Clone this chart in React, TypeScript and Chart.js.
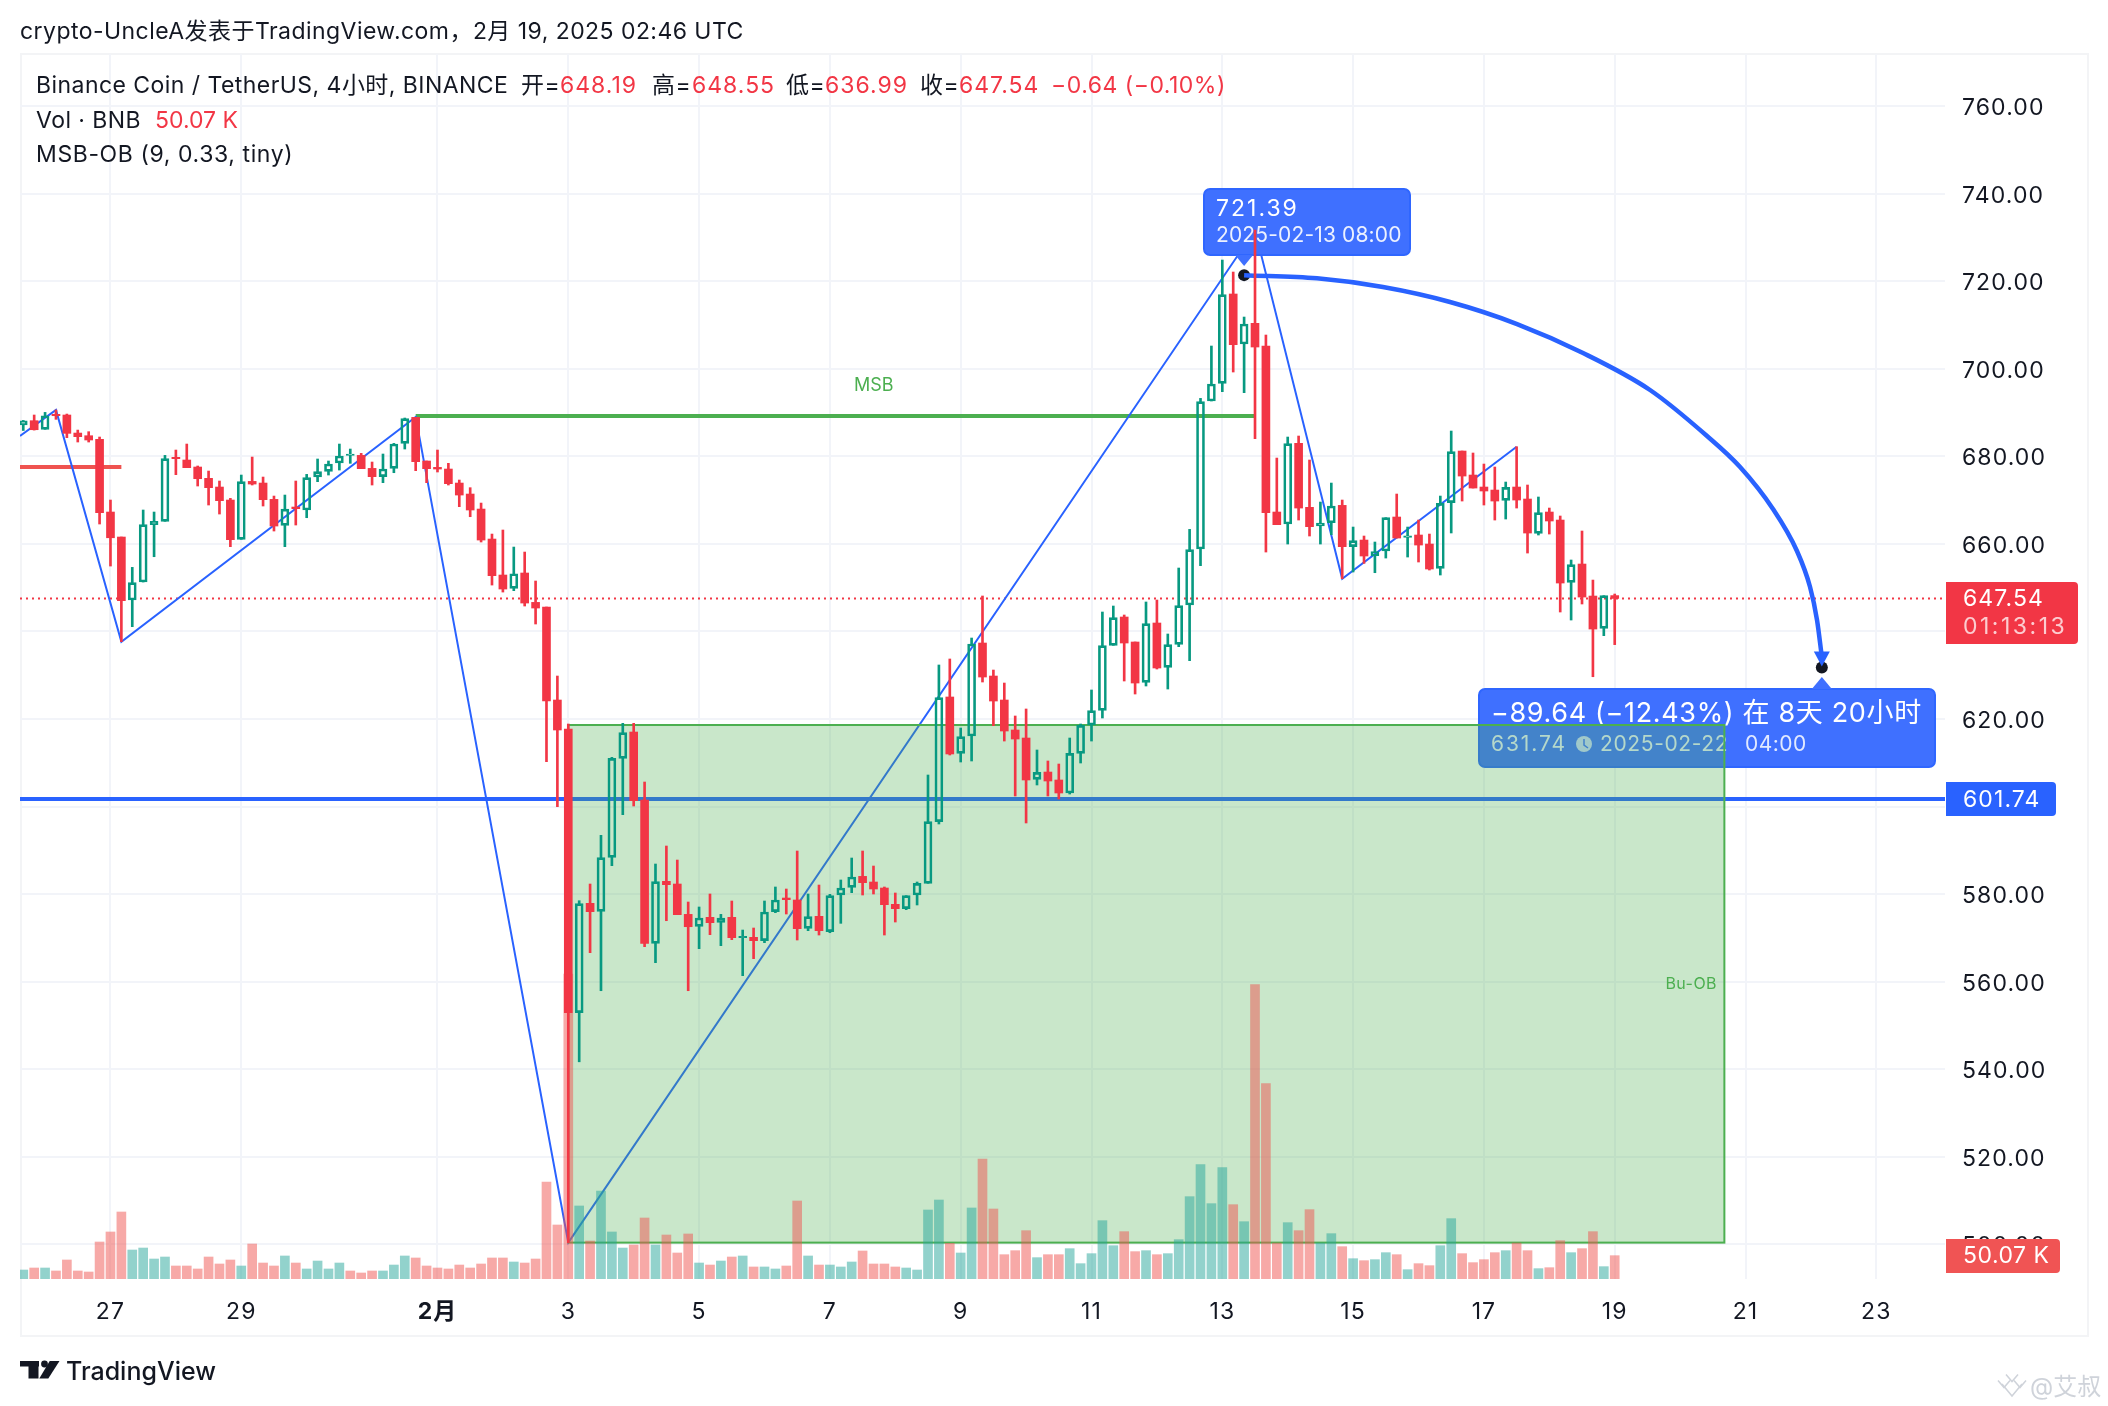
import React, { useEffect, useRef } from 'react';
import { Chart, registerables } from 'chart.js';

Chart.register(...registerables);

// bar index 0 is the 4h candle of Feb 3 00:00, one bar is 4 hours
const firstBar = -50;
const opens = [
  687.2, 688.14, 686.16, 689.59, 689.44, 685.32, 684.71, 683.88, 667.28, 661.57,
  647.18, 651.29, 664.39, 665.15, 679.77, 679.16, 677.56, 674.97, 672.99, 670.02,
  661.04, 674.28, 673.9, 670.17, 664.23, 668.42, 667.74, 675.27, 676.57, 678.47,
  680.22, 680.22, 677.25, 675.35, 677.25, 682.96, 688.9, 678.93, 677.48, 677.1,
  673.9, 671.39, 667.96, 661.11, 652.89, 649.84, 653.35, 646.64, 645.58, 624.34,
  617.72, 552.92, 577.9, 576.07, 588.41, 611.02, 617.03, 601.5, 568.76, 582.92,
  582.31, 575.38, 572.64, 574.7, 573.56, 574.7, 570.05, 570.13, 569.37, 575.99,
  579.11, 578.66, 572.18, 574.93, 571.42, 579.8, 581.55, 584.06, 582.77, 581.4,
  577.67, 576.68, 579.8, 582.46, 596.55, 625.03, 612.16, 616.12, 637.36, 629.82,
  624.34, 617.49, 615.66, 606.22, 607.89, 606.07, 603.1, 612.16, 618.63, 621.98,
  636.83, 643.3, 637.59, 628.38, 641.93, 631.8, 637.06, 646.04, 658.83, 692.64,
  696.67, 717.08, 705.65, 710.38, 705.2, 667.28, 664.54, 682.97, 668.35, 664.08,
  664.84, 668.8, 659.36, 660.88, 657.31, 658.37, 666.14, 661.5, 662.03, 659.97,
  654.41, 669.41, 681.21, 675.73, 672.99, 672.3, 669.95, 672.99, 670.25, 662.41,
  667.28, 665.45, 651.21, 655.4, 648.09, 640.7, 648.19,
];
const closes = [
  688.1, 686.08, 689.28, 689.28, 685.25, 684.49, 683.73, 667.13, 661.4, 647.03,
  651.14, 664.39, 665.15, 679.46, 679.46, 677.41, 674.89, 672.84, 669.87, 660.96,
  674.21, 673.67, 670.1, 664.08, 667.96, 668.04, 675.12, 676.49, 678.24, 680.07,
  680.53, 677.18, 675.35, 677.1, 682.81, 688.6, 678.78, 677.18, 677.1, 673.75,
  671.16, 667.74, 660.88, 652.74, 649.69, 653.19, 646.49, 645.35, 624.11, 617.49,
  552.92, 577.82, 575.99, 588.33, 611.02, 616.88, 601.35, 568.76, 582.85, 582.16,
  575.31, 572.56, 574.54, 573.48, 574.54, 570.05, 570.36, 569.37, 575.92, 578.66,
  578.73, 572.11, 574.85, 571.65, 579.65, 581.4, 583.91, 582.62, 581.17, 577.59,
  576.68, 579.65, 582.46, 596.55, 624.87, 612.01, 615.97, 637.13, 629.59, 624.11,
  617.26, 615.43, 606.07, 607.82, 605.84, 603.1, 612.16, 618.55, 621.9, 636.75,
  643.15, 637.36, 628.22, 641.78, 631.65, 636.98, 645.89, 658.68, 692.48, 696.52,
  716.92, 705.5, 710.22, 704.97, 667.13, 664.39, 682.89, 668.19, 663.93, 664.77,
  668.65, 659.36, 660.73, 657.23, 658.22, 666.0, 661.34, 661.87, 659.74, 654.26,
  669.26, 681.06, 675.5, 672.76, 672.08, 669.79, 672.91, 670.02, 662.48, 667.13,
  665.23, 651.06, 655.25, 647.86, 640.55, 648.19, 647.54,
];
const highs = [
  688.2, 689.44, 690.04, 690.58, 689.66, 686.0, 685.63, 684.41, 670.02, 661.57,
  654.64, 667.74, 667.28, 680.22, 681.44, 682.81, 677.79, 676.64, 674.36, 670.4,
  675.73, 679.84, 675.27, 670.93, 671.16, 674.36, 675.88, 679.39, 678.93, 682.81,
  681.67, 680.68, 678.7, 680.53, 682.96, 688.75, 688.9, 678.93, 681.44, 678.4,
  674.59, 672.84, 669.33, 662.25, 663.17, 659.28, 658.14, 651.52, 645.58, 629.82,
  618.86, 578.5, 582.31, 593.43, 611.25, 619.01, 619.01, 605.61, 586.88, 590.99,
  587.79, 578.2, 577.06, 580.03, 575.38, 578.43, 571.8, 572.26, 578.43, 581.63,
  581.17, 589.85, 580.03, 582.08, 579.95, 583.23, 588.25, 589.85, 586.42, 581.63,
  580.26, 579.65, 582.77, 607.21, 632.34, 633.71, 617.94, 638.5, 648.1, 631.19,
  628.22, 620.69, 622.29, 612.92, 610.41, 609.72, 615.66, 618.86, 626.63, 644.44,
  645.81, 643.76, 637.59, 646.73, 647.18, 639.42, 654.49, 663.32, 693.24, 705.2,
  724.84, 722.1, 711.82, 731.69, 707.71, 679.61, 684.41, 684.64, 679.16, 669.56,
  673.9, 670.02, 663.85, 661.8, 660.43, 666.0, 671.39, 663.85, 665.45, 662.25,
  670.93, 685.78, 681.21, 680.76, 678.24, 677.56, 674.13, 682.2, 673.45, 670.71,
  668.19, 666.37, 656.32, 662.94, 651.74, 648.19, 648.55,
];
const lows = [
  685.9, 686.0, 686.16, 688.45, 684.26, 683.27, 683.27, 664.54, 654.94, 637.66,
  641.09, 651.29, 657.07, 665.15, 675.81, 677.41, 673.22, 668.88, 666.82, 659.36,
  661.04, 673.45, 668.65, 662.94, 659.36, 664.31, 665.98, 674.21, 675.73, 676.87,
  678.4, 677.18, 673.45, 673.98, 676.26, 681.67, 676.72, 673.98, 676.42, 673.45,
  668.5, 666.21, 660.43, 650.6, 649.0, 649.31, 645.81, 641.7, 610.25, 599.98,
  500.4, 541.7, 566.63, 557.94, 586.5, 598.15, 600.13, 568.0, 564.34, 573.93,
  575.31, 557.94, 567.54, 570.74, 568.23, 569.6, 561.37, 565.26, 568.91, 575.76,
  575.46, 569.52, 571.65, 570.66, 571.19, 573.33, 580.33, 579.8, 580.03, 570.66,
  573.63, 576.45, 577.52, 582.46, 596.02, 611.78, 610.18, 610.41, 628.45, 618.48,
  614.97, 602.41, 596.25, 604.93, 602.41, 601.73, 602.87, 609.95, 614.97, 620.23,
  636.83, 628.68, 625.71, 627.54, 631.42, 626.85, 636.52, 633.32, 655.02, 692.64,
  694.77, 699.26, 694.54, 684.03, 658.14, 664.39, 659.97, 665.45, 661.8, 659.97,
  662.1, 652.05, 653.58, 655.55, 653.42, 656.77, 661.34, 657.0, 655.86, 654.03,
  652.89, 662.49, 669.79, 672.76, 668.88, 665.45, 665.68, 668.19, 657.91, 662.03,
  662.25, 644.44, 642.61, 646.27, 629.66, 639.03, 636.99,
];
// volume in thousands of BNB
const volumes = [
  19.3, 23.6, 23.6, 17.2, 40.8, 17.2, 15.0, 79.4, 100.9, 143.8,
  62.2, 66.5, 42.9, 47.2, 27.9, 27.9, 21.5, 47.2, 32.2, 40.8,
  27.9, 75.1, 34.3, 27.9, 49.4, 34.3, 21.5, 38.6, 21.5, 34.3,
  17.2, 12.9, 17.2, 17.2, 30.0, 49.4, 45.1, 27.9, 23.6, 21.5,
  30.0, 23.6, 32.2, 45.1, 45.1, 36.5, 34.3, 42.9, 208.2, 115.9,
  654.5, 156.7, 81.5, 188.8, 100.9, 66.5, 73.0, 130.9, 73.0, 94.4,
  55.8, 96.6, 34.3, 30.0, 38.6, 47.2, 49.4, 25.8, 25.8, 21.5,
  27.9, 167.4, 49.4, 30.0, 30.0, 25.8, 36.5, 60.1, 32.2, 32.2,
  25.8, 23.6, 19.3, 148.1, 169.5, 76.5, 55.8, 152.4, 257.5, 150.2,
  52.2, 60.8, 103.7, 45.8, 52.2, 52.2, 65.1, 32.9, 54.4, 125.2,
  71.5, 101.6, 58.7, 60.8, 52.2, 54.4, 84.4, 176.7, 245.3, 161.7,
  238.9, 159.5, 123.0, 631.6, 419.2, 77.3, 120.9, 103.7, 148.8, 77.3,
  97.3, 69.4, 43.6, 39.3, 41.5, 56.5, 52.2, 20.0, 32.9, 28.6,
  71.5, 129.5, 54.4, 35.1, 41.5, 56.5, 60.8, 77.3, 60.8, 22.2,
  24.3, 82.3, 56.5, 65.1, 101.6, 26.5, 50.07,
];
const redVolumeOnGreenCandle = [-20];

const priceTicks = [500, 520, 540, 560, 580, 600, 620, 640, 660, 680, 700, 720, 740, 760];
const dayTickBars = [-42, -30, -12, 0, 12, 24, 36, 48, 60, 72, 84, 96, 108, 120];
const dayTickLabels = ['27', '29', '2月', '3', '5', '7', '9', '11', '13', '15', '17', '19', '21', '23'];

// MSB-OB zigzag pivots
const zigzagBars = [-50.3, -47, -41, -14, 0, 63, 71, 87];
const zigzagPrices = [684.64, 690.58, 637.66, 689.0, 500.4, 731.69, 652.05, 682.2];

// hand drawn projection curve
const curveBars = [62, 68.69, 74.74, 80.89, 87.04, 93.09, 99.24, 104.47, 107.5, 110.52, 112.72, 113.92, 114.56, 115];
const curvePrices = [721.39, 720.66, 718.67, 715.25, 710.22, 703.6, 695.15, 684.64, 677.56, 667.97, 658.37, 650.15, 642.61, 634.23];
const dotBars = [62, 115];
const dotPrices = [721.39, 631.74];

const lastPrice = 647.54;
const linePrice = 601.74;
const msbPrice = 689.2;
const msbBars = [-14, 63];
const redZonePrice = 677.56;
const redZoneBars = [-50.3, -41];
const obBars = [0, 106.06];
const obPrices = [618.63, 500.4];

const RED = '#f23645';
const GREEN = '#089981';
const BLUE = '#2962ff';
const OB_GREEN = '#4caf50';
const INK = '#131722';
const FONT = 'Inter, "Noto Sans CJK SC", sans-serif';

const bars = opens.map((_, i) => firstBar + i);
const isUp = (i: number) => closes[i] >= opens[i];

const hLine = (label: string, xs: number[], price: number, color: string, width: number, order: number, dash?: number[]) => ({
  type: 'line' as const,
  label,
  data: xs.map((x) => ({ x, y: price })),
  borderColor: color,
  borderWidth: width,
  borderDash: dash,
  pointRadius: 0,
  tension: 0,
  order,
});

const text = (ctx: any, s: string, x: number, y: number, color: string, font: string, spacing = 0.45) => {
  ctx.fillStyle = color;
  ctx.font = font;
  ctx.letterSpacing = `${spacing}px`;
  ctx.textAlign = 'left';
  ctx.textBaseline = 'middle';
  ctx.fillText(s, x, y + 1.3);
};

const box = (ctx: CanvasRenderingContext2D, x: number, y: number, w: number, h: number, r: number | number[], color: string) => {
  ctx.fillStyle = color;
  ctx.beginPath();
  ctx.roundRect(x, y, w, h, r);
  ctx.fill();
};

// white page, outer frame and everything around the plot
const pagePlugin = {
  id: 'page',
  beforeDraw(chart: Chart) {
    const ctx: any = chart.ctx;
    ctx.save();
    ctx.fillStyle = '#ffffff';
    ctx.fillRect(0, 0, chart.width, chart.height);
    ctx.strokeStyle = '#f3f4f6';
    ctx.lineWidth = 2;
    ctx.strokeRect(21, 54, 2067, 1282);
    ctx.restore();
    // the axis labels have wider figures in the original
    ctx.letterSpacing = '1.1px';
  },
  afterDraw(chart: Chart) {
    const ctx = chart.ctx;
    ctx.save();
    const f = `23px ${FONT}`;
    text(ctx, 'crypto-UncleA发表于TradingView.com，2月 19, 2025 02:46 UTC', 20, 31, INK, f);

    // legend rows
    text(ctx, 'Binance Coin / TetherUS, 4小时, BINANCE', 36, 85, INK, f);
    text(ctx, '开=', 521, 85, INK, f);
    text(ctx, '648.19', 560, 85, RED, f, 1);
    text(ctx, '高=', 652, 85, INK, f);
    text(ctx, '648.55', 692, 85, RED, f, 1);
    text(ctx, '低=', 786, 85, INK, f);
    text(ctx, '636.99', 825, 85, RED, f, 1);
    text(ctx, '收=', 920, 85, INK, f);
    text(ctx, '647.54', 959, 85, RED, f, 1);
    text(ctx, '−0.64 (−0.10%)', 1051, 85, RED, f, 0.5);
    text(ctx, 'Vol · BNB', 36, 120, INK, f);
    text(ctx, '50.07 K', 155, 120, RED, f, 0);
    text(ctx, 'MSB-OB (9, 0.33, tiny)', 36, 154, INK, f, 0.6);

    // price scale labels
    box(ctx, 1946, 582, 132, 62, [0, 4, 4, 0], RED);
    text(ctx, '647.54', 1963, 598, '#ffffff', f, 1.1);
    text(ctx, '01:13:13', 1963, 626, 'rgba(255,255,255,0.75)', f, 2.5);
    box(ctx, 1946, 782, 110, 34, [0, 4, 4, 0], BLUE);
    text(ctx, '601.74', 1963, 799, '#ffffff', f, 1.1);
    box(ctx, 1946, 1239, 114, 34, [0, 4, 4, 0], '#f05454');
    text(ctx, '50.07 K', 1963, 1255, '#ffffff', f, 0.5);

    // TradingView mark
    ctx.fillStyle = INK;
    ctx.fillRect(20, 1361, 19, 5.5);
    ctx.fillRect(28.5, 1361, 10, 17.5);
    ctx.beginPath();
    ctx.arc(44.5, 1364, 3.4, 0, Math.PI * 2);
    ctx.fill();
    ctx.beginPath();
    ctx.moveTo(49.7, 1361);
    ctx.lineTo(59.5, 1361);
    ctx.lineTo(48.3, 1378.5);
    ctx.lineTo(39.3, 1378.5);
    ctx.closePath();
    ctx.fill();
    text(ctx, 'TradingView', 66, 1371, INK, `500 25px ${FONT}`, 0);

    // watermark
    ctx.strokeStyle = '#cfd3da';
    ctx.lineWidth = 1.5;
    for (const [cx, cy, w] of [[2012, 1378, 6], [2004, 1384, 6], [2020, 1384, 6], [2012, 1390, 10]]) {
      ctx.beginPath();
      ctx.moveTo(cx - w, cy - w * 0.6);
      ctx.lineTo(cx, cy + w * 0.6);
      ctx.lineTo(cx + w, cy - w * 0.6);
      ctx.stroke();
    }
    text(ctx, '@艾叔', 2030, 1386, '#cfd3da', `24px ${FONT}`, 0);
    ctx.restore();
  },
  // drawn right under volume and candles, so the zone tints only what lies below it
  afterDatasetDraw(chart: Chart, args: { index: number }) {
    if (chart.data.datasets[args.index].label !== 'zigzag') return;
    const ctx = chart.ctx;
    const x = chart.scales.x;
    const y = chart.scales.y;
    ctx.save();

    // arrow head
    const ax = x.getPixelForValue(dotBars[1]);
    const ay = y.getPixelForValue(dotPrices[1]);
    ctx.fillStyle = BLUE;
    ctx.beginPath();
    ctx.moveTo(ax - 8, ay - 16);
    ctx.lineTo(ax + 8, ay - 16);
    ctx.lineTo(ax, ay - 1);
    ctx.closePath();
    ctx.fill();

    // start label
    const sx = x.getPixelForValue(dotBars[0]);
    ctx.fillStyle = '#3f70ff';
    ctx.strokeStyle = '#2f66ff';
    ctx.lineWidth = 2;
    ctx.beginPath();
    ctx.roundRect(1204, 189, 206, 66, 6);
    ctx.fill();
    ctx.stroke();
    ctx.fillStyle = '#3f70ff';
    ctx.beginPath();
    ctx.moveTo(sx - 9, 255);
    ctx.lineTo(sx + 9, 255);
    ctx.lineTo(sx, 266);
    ctx.closePath();
    ctx.fill();
    text(ctx, '721.39', 1216, 208, '#ffffff', `23px ${FONT}`, 2);
    text(ctx, '2025-02-13 08:00', 1216, 234, 'rgba(255,255,255,0.9)', `21px ${FONT}`, 0.15);

    // end label
    ctx.fillStyle = '#3f70ff';
    ctx.beginPath();
    ctx.roundRect(1479, 689, 456, 78, 6);
    ctx.fill();
    ctx.stroke();
    ctx.beginPath();
    ctx.moveTo(ax - 10, 689);
    ctx.lineTo(ax + 10, 689);
    ctx.lineTo(ax, 677);
    ctx.closePath();
    ctx.fill();
    text(ctx, '−89.64 (−12.43%) 在 8天 20小时', 1491, 713, '#ffffff', `27px ${FONT}`, 0.65);
    text(ctx, '631.74', 1491, 743, 'rgba(255,255,255,0.85)', `21px ${FONT}`, 1.9);
    ctx.fillStyle = 'rgba(255,255,255,0.7)';
    ctx.beginPath();
    ctx.arc(1584, 744, 8, 0, Math.PI * 2);
    ctx.fill();
    ctx.strokeStyle = '#3f70ff';
    ctx.lineWidth = 1.5;
    ctx.beginPath();
    ctx.moveTo(1584, 739);
    ctx.lineTo(1584, 745);
    ctx.lineTo(1588, 748);
    ctx.stroke();
    text(ctx, '2025-02-22', 1600, 743, 'rgba(255,255,255,0.85)', `21px ${FONT}`, 0.63);
    text(ctx, '04:00', 1745, 743, 'rgba(255,255,255,0.85)', `21px ${FONT}`, 0.5);

    // order block zone
    const left = x.getPixelForValue(obBars[0]);
    const right = x.getPixelForValue(obBars[1]);
    const top = y.getPixelForValue(obPrices[0]);
    const bottom = y.getPixelForValue(obPrices[1]);
    ctx.fillStyle = 'rgba(76,175,80,0.3)';
    ctx.fillRect(left, top, right - left, bottom - top);
    ctx.strokeStyle = OB_GREEN;
    ctx.lineWidth = 2;
    ctx.strokeRect(left, top, right - left, bottom - top);
    text(ctx, 'Bu-OB', right - 59, 983, OB_GREEN, `16px ${FONT}`);
    text(ctx, 'MSB', 854, 384, OB_GREEN, `18px ${FONT}`, 0);
    ctx.restore();
    (ctx as any).letterSpacing = '1.1px';
  },
};

const App = () => {
  const chartRef = useRef<HTMLCanvasElement>(null);
  const chartInstance = useRef<Chart | null>(null);

  useEffect(() => {
    document.body.style.margin = '0';
    if (!chartRef.current) return;
    const ctx = chartRef.current.getContext('2d');
    if (!ctx) return;

    chartInstance.current = new Chart(ctx, {
      type: 'bar',
      plugins: [pagePlugin],
      data: {
        datasets: [
          hLine('last price', [-50.3, 126.3], lastPrice, RED, 2, 8, [2, 4]),
          hLine('horizontal', [-50.3, 126.3], linePrice, BLUE, 4, 8),
          hLine('msb', msbBars, msbPrice, OB_GREEN, 4, 8),
          hLine('bearish', redZoneBars, redZonePrice, '#ef5350', 4, 8),
          {
            type: 'line',
            label: 'curve',
            data: curveBars.map((x, i) => ({ x, y: curvePrices[i] })),
            borderColor: BLUE,
            borderWidth: 4.5,
            pointRadius: 0,
            cubicInterpolationMode: 'monotone',
            order: 7,
          },
          {
            type: 'line',
            label: 'dots',
            data: dotBars.map((x, i) => ({ x, y: dotPrices[i] })),
            showLine: false,
            pointRadius: 6,
            pointBorderWidth: 0,
            pointBackgroundColor: INK,
            order: 7,
          },
          {
            type: 'line',
            label: 'zigzag',
            data: zigzagBars.map((x, i) => ({ x, y: zigzagPrices[i] })),
            borderColor: BLUE,
            borderWidth: 2,
            pointRadius: 0,
            tension: 0,
            order: 6,
          },
          {
            label: 'volume',
            yAxisID: 'yVol',
            data: bars.map((x, i) => ({ x, y: volumes[i] })),
            backgroundColor: bars.map((x, i) =>
              isUp(i) && !redVolumeOnGreenCandle.includes(x) ? 'rgba(38,166,154,0.5)' : 'rgba(239,83,80,0.5)'
            ),
            barThickness: 9,
            grouped: false,
            order: 5.5,
          },
          {
            label: 'wick high',
            data: bars.map((x, i) => ({ x, y: [Math.max(opens[i], closes[i]), highs[i]] })),
            backgroundColor: bars.map((_, i) => (isUp(i) ? GREEN : RED)),
            barThickness: 2,
            grouped: false,
            order: 5,
          },
          {
            label: 'wick low',
            data: bars.map((x, i) => ({ x, y: [lows[i], Math.min(opens[i], closes[i])] })),
            backgroundColor: bars.map((_, i) => (isUp(i) ? GREEN : RED)),
            barThickness: 2,
            grouped: false,
            order: 5,
          },
          {
            label: 'down candles',
            data: bars.flatMap((x, i) => (isUp(i) ? [] : [{ x, y: [opens[i], closes[i]] }])),
            backgroundColor: RED,
            barThickness: 8,
            grouped: false,
            order: 4,
          },
          {
            // hollow, the zone and grid show through
            label: 'up candles',
            data: bars.flatMap((x, i) => (isUp(i) ? [{ x, y: [opens[i], closes[i]] }] : [])),
            backgroundColor: 'rgba(0,0,0,0)',
            borderColor: GREEN,
            borderWidth: 2,
            borderSkipped: false,
            barThickness: 8,
            grouped: false,
            order: 4,
          },
        ],
      } as any,
      options: {
        responsive: false,
        animation: false,
        devicePixelRatio: 1,
        layout: { padding: { left: 20, top: 54, right: 20, bottom: 70 } },
        plugins: { legend: { display: false }, tooltip: { enabled: false } },
        scales: {
          x: {
            type: 'linear',
            offset: false,
            min: -50.3,
            max: 126.3,
            afterBuildTicks: (s: any) => {
              s.ticks = dayTickBars.map((value) => ({ value }));
            },
            afterFit: (s: any) => {
              s.height = 57;
            },
            grid: { color: '#f2f4f9', lineWidth: 2, drawTicks: false, offset: false },
            border: { display: false },
            ticks: {
              autoSkip: false,
              maxRotation: 0,
              padding: 19,
              color: INK,
              font: (c: any) => ({ family: FONT, size: 23, weight: c.index === 2 ? 'bold' : 'normal' }),
              callback: (_: any, i: number) => dayTickLabels[i],
            },
          },
          y: {
            position: 'right',
            min: 492.09,
            max: 771.9,
            afterBuildTicks: (s: any) => {
              s.ticks = priceTicks.map((value) => ({ value }));
            },
            afterFit: (s: any) => {
              s.width = 143;
            },
            grid: { color: '#f2f4f9', lineWidth: 2, drawTicks: false },
            border: { display: false },
            ticks: {
              padding: 17,
              labelOffset: 2,
              color: INK,
              font: { family: FONT, size: 23 },
              callback: (v: any) => Number(v).toFixed(2),
            },
          },
          yVol: {
            display: false,
            min: 0,
            max: 2629,
          },
        },
      } as any,
    });

    return () => {
      if (chartInstance.current) {
        chartInstance.current.destroy();
      }
    };
  }, []);

  return <canvas ref={chartRef} width={2108} height={1406} style={{ display: 'block' }}></canvas>;
};

export default App;
